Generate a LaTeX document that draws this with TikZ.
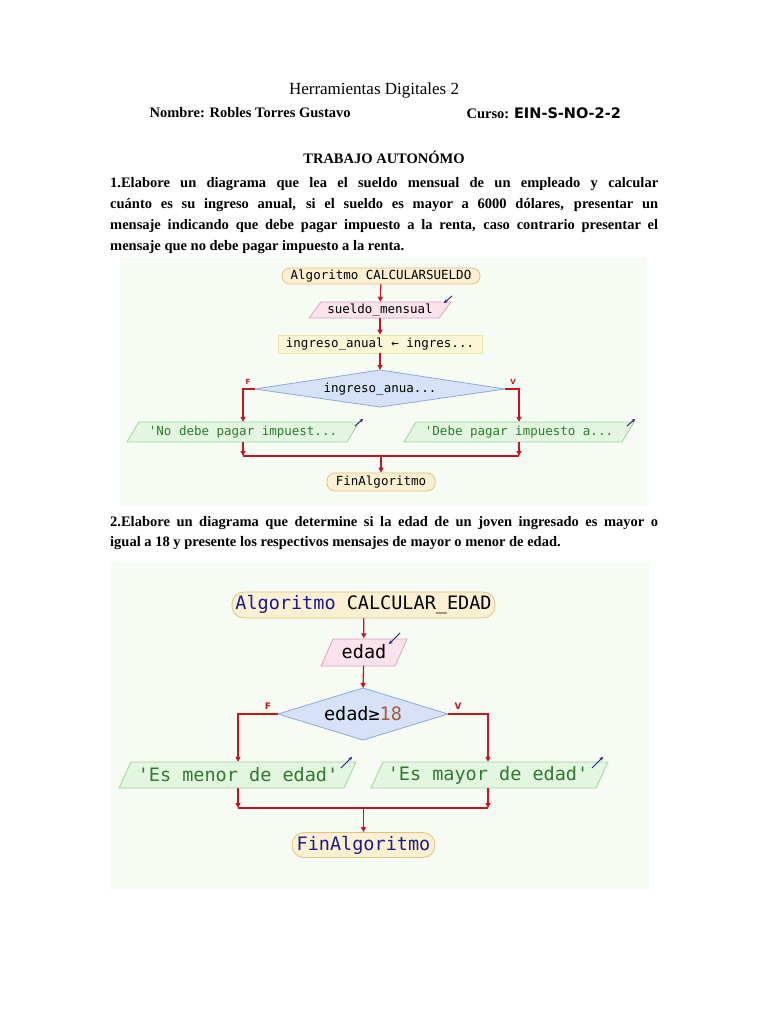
\documentclass[tikz,border=0pt]{standalone}
\usepackage{fontspec}
\setmainfont{Liberation Serif}
\newfontfamily\mono{DejaVu Sans Mono}
\newfontfamily\dsans{DejaVu Sans}
\usetikzlibrary{arrows.meta}
\definecolor{bgc}{HTML}{F6FBF3}
\definecolor{termf}{HTML}{FCF0D2}\definecolor{termd}{HTML}{E3C27E}
\definecolor{inf}{HTML}{FBE2EC}\definecolor{ind}{HTML}{E3A0BC}
\definecolor{prf}{HTML}{FBF7D6}\definecolor{prd}{HTML}{EDE3A2}
\definecolor{dif}{HTML}{D6E2F8}\definecolor{did}{HTML}{8EA8E0}
\definecolor{ouf}{HTML}{E2F6E0}\definecolor{oud}{HTML}{9ED69A}
\definecolor{arr}{HTML}{C8141E}
\definecolor{kw}{HTML}{1C1C8A}\definecolor{strc}{HTML}{2E7A2E}\definecolor{numc}{HTML}{A85A30}
\tikzset{
 term/.style={draw=termd,fill=termf,rounded corners=8pt,line width=0.8pt,inner sep=0pt},
 lbl/.style={inner sep=0pt,font=\mono},
 flow/.style={draw=arr,line width=1.3pt,-{Triangle[length=5pt,width=5pt]}},
 fl/.style={draw=arr,line width=1.3pt},
 tiny/.style={draw=kw,line width=0.9pt,-{Stealth[length=3.5pt,width=3.5pt]}},
 fv/.style={text=arr,font=\dsans\bfseries,inner sep=0pt},
}
\newcommand{\parab}[6]{% x1 x2 y1 y2 fill draw
 \filldraw[fill=#5,draw=#6,line width=0.8pt] (#1+6,#3) -- (#2+6,#3) -- (#2-6,#4) -- (#1-6,#4) -- cycle;}
\begin{document}
\begin{tikzpicture}[x=1pt,y=-1pt]
\useasboundingbox (0,0) rectangle (768,1024);
\fill[white] (0,0) rectangle (768,1024);
% header
\node[font=\fontsize{17}{20}\selectfont] (title) at (374,90) {Herramientas Digitales 2};
\node[anchor=west,font=\fontsize{14.5}{17}\selectfont\bfseries] (nom) at (146,113) {Nombre: Robles Torres Gustavo};
\node[anchor=west,font=\fontsize{14.5}{17}\selectfont\bfseries] (cur) at (463,113) {Curso: {\dsans EIN-S-NO-2-2}};
\node[font=\fontsize{14.5}{17}\selectfont\bfseries] (trab) at (384,157) {TRABAJO AUTONÓMO};
\node[anchor=north west,inner sep=0pt,text width=548pt,align=justify,font=\fontsize{14.5}{21}\selectfont\bfseries] (p1) at (110,177)
{1.Elabore un diagrama que lea el sueldo mensual de un empleado y calcular\linebreak
cuánto es su ingreso anual, si el sueldo es mayor a 6000 dólares, presentar un\linebreak
mensaje indicando que debe pagar impuesto a la renta, caso contrario presentar el\linebreak
mensaje que no debe pagar impuesto a la renta.};
\node[anchor=north west,inner sep=0pt,text width=548pt,align=justify,font=\fontsize{14.5}{20}\selectfont\bfseries] (p2) at (110,516)
{2.Elabore un diagrama que determine si la edad de un joven ingresado es mayor o\linebreak
igual a 18 y presente los respectivos mensajes de mayor o menor de edad.};
% ---------- diagram 1
\fill[bgc] (120,257) rectangle (647,505);
\node[term,minimum width=198pt,minimum height=16pt] (s1) at (381,276) {};
\node[lbl,font=\mono\fontsize{12.5}{13}\selectfont] at (s1) {Algoritmo CALCULARSUELDO};
\parab{315}{445}{302}{318}{inf}{ind}
\node[lbl,minimum width=120pt,minimum height=16pt,font=\mono\fontsize{12.5}{13}\selectfont] (in1) at (380,310) {sueldo\_mensual};
\draw[tiny] (452,296) -- (444,303);
\node[draw=prd,fill=prf,line width=0.8pt,minimum width=204pt,minimum height=18pt,inner sep=0pt,font=\mono\fontsize{12.5}{13}\selectfont] (pr1) at (380,344) {ingreso\_anual ← ingres...};
\filldraw[fill=dif,draw=did,line width=0.8pt] (255,389) coordinate (dl1) -- (380,370) coordinate (dt1) -- (505,389) coordinate (dr1) -- (380,407) -- cycle;
\node[lbl,font=\mono\fontsize{12.5}{13}\selectfont] (d1) at (380,389) {ingreso\_anua...};
\node[fv,font=\dsans\bfseries\fontsize{7}{8}\selectfont] (f1) at (248,382) {F};
\node[fv,font=\dsans\bfseries\fontsize{7}{8}\selectfont] (v1) at (513,382) {V};
\parab{133}{353}{422}{442}{ouf}{oud}
\node[lbl,minimum width=210pt,minimum height=20pt,font=\mono\fontsize{12.5}{13}\selectfont,text=strc] (o1) at (243,432) {'No debe pagar impuest...};
\parab{410}{628}{422}{442}{ouf}{oud}
\node[lbl,minimum width=210pt,minimum height=20pt,font=\mono\fontsize{12.5}{13}\selectfont,text=strc] (o2) at (519,432) {'Debe pagar impuesto a...};
\draw[tiny] (355,426) -- (363,419);
\draw[tiny] (627,426) -- (635,419);
\node[term,minimum width=108pt,minimum height=18pt] (e1) at (381,482) {};
\node[lbl,font=\mono\fontsize{12.5}{13}\selectfont] at (e1) {FinAlgoritmo};
\draw[flow] (s1) -- (in1);
\draw[flow] (in1) -- (pr1);
\draw[flow] (pr1) -- (dt1);
\draw[flow] (dl1) -| (o1.north);
\draw[flow] (dr1) -| (o2.north);
\coordinate (m1) at (381,456);
\draw[flow] (o1.south) -- (o1.south |- m1);
\draw[flow] (o2.south) -- (o2.south |- m1);
\draw[fl] (o1.south |- m1) -- (o2.south |- m1);
\draw[flow] (m1) -- (e1);
% ---------- diagram 2
\fill[bgc] (110,562) rectangle (650,890);
\node[term,rounded corners=12pt,minimum width=263pt,minimum height=26pt] (s2) at (363.5,605) {};
\node[lbl,font=\mono\fontsize{18.5}{19}\selectfont] at (s2) {\textcolor{kw}{Algoritmo} CALCULAR\_EDAD};
\parab{327}{401}{639}{666}{inf}{ind}
\node[lbl,minimum width=70pt,minimum height=27pt,font=\mono\fontsize{18.5}{19}\selectfont] (in2) at (364,652) {edad};
\draw[tiny] (400,633) -- (389,644);
\filldraw[fill=dif,draw=did,line width=0.8pt] (278,714) coordinate (dl2) -- (363,688) coordinate (dt2) -- (448,714) coordinate (dr2) -- (363,740) -- cycle;
\node[lbl,font=\mono\fontsize{18.5}{19}\selectfont] (d2) at (363,714) {edad≥\textcolor{numc}{18}};
\node[fv,font=\dsans\bfseries\fontsize{9}{10}\selectfont] (f2) at (268,706) {F};
\node[fv,font=\dsans\bfseries\fontsize{9}{10}\selectfont] (v2) at (458,706) {V};
\parab{125}{350}{762}{788}{ouf}{oud}
\node[lbl,minimum width=220pt,minimum height=26pt,font=\mono\fontsize{18.5}{19}\selectfont,text=strc] (o3) at (238,775) {'Es menor de edad'};
\parab{377}{602}{762}{788}{ouf}{oud}
\node[lbl,minimum width=220pt,minimum height=26pt,font=\mono\fontsize{18.5}{19}\selectfont,text=strc] (o4) at (488,775) {'Es mayor de edad'};
\draw[tiny] (341,768) -- (352,757);
\draw[tiny] (592,768) -- (603,757);
\node[term,rounded corners=12pt,minimum width=143pt,minimum height=25pt] (e2) at (363.5,845) {};
\node[lbl,font=\mono\fontsize{18.5}{19}\selectfont,text=kw] at (e2) {FinAlgoritmo};
\draw[flow] (s2) -- (in2);
\draw[flow] (in2) -- (dt2);
\draw[flow] (dl2) -| (o3.north);
\draw[flow] (dr2) -| (o4.north);
\coordinate (m2) at (363.5,808);
\draw[flow] (o3.south) -- (o3.south |- m2);
\draw[flow] (o4.south) -- (o4.south |- m2);
\draw[fl] (o3.south |- m2) -- (o4.south |- m2);
\draw[flow] (m2) -- (e2);
\end{tikzpicture}
\end{document}
